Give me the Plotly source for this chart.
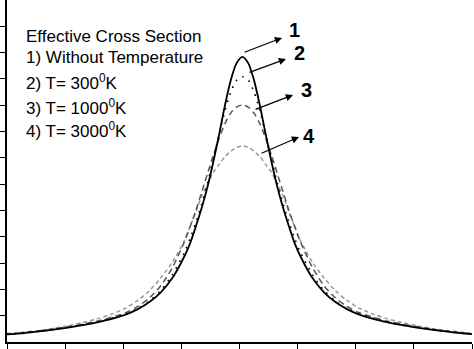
import plotly.graph_objects as go

# x positions (peak centre at ~0.05)
x = [-4.0, -3.7, -3.45, -3.2, -2.95, -2.7, -2.45, -2.2, -1.95, -1.75, -1.55, -1.35, -1.15, -0.95,
     -0.85, -0.75, -0.65, -0.55, -0.45, -0.35, -0.25, -0.15, -0.05, 0.05,
     0.15, 0.25, 0.35, 0.45, 0.55, 0.65, 0.75, 0.85, 0.95, 1.05,
     1.25, 1.45, 1.65, 1.85, 2.05, 2.3, 2.55, 2.8, 3.05, 3.3, 3.55, 3.8, 4.0]

# 1) Without temperature
y1 = [0.29, 0.34, 0.40, 0.47, 0.55, 0.64, 0.75, 0.88, 1.05, 1.25, 1.52, 1.90, 2.45, 3.25,
      3.75, 4.40, 5.10, 5.90, 6.85, 7.90, 9.00, 9.95, 10.60, 10.84,
      10.60, 9.95, 9.00, 7.90, 6.85, 5.90, 5.10, 4.40, 3.75, 3.25,
      2.45, 1.90, 1.52, 1.25, 1.05, 0.88, 0.75, 0.64, 0.55, 0.47, 0.40, 0.34, 0.30]
# 2) T = 300 K
y2 = [0.30, 0.35, 0.41, 0.48, 0.56, 0.65, 0.76, 0.90, 1.07, 1.27, 1.56, 1.97, 2.58, 3.40,
      3.93, 4.55, 5.25, 6.05, 6.95, 7.90, 8.80, 9.50, 9.95, 10.08,
      9.95, 9.50, 8.80, 7.90, 6.95, 6.05, 5.25, 4.55, 3.93, 3.40,
      2.58, 1.97, 1.56, 1.27, 1.07, 0.90, 0.76, 0.65, 0.56, 0.48, 0.41, 0.35, 0.31]
# 3) T = 1000 K
y3 = [0.30, 0.36, 0.42, 0.49, 0.58, 0.68, 0.79, 0.94, 1.12, 1.35, 1.68, 2.15, 2.85, 3.80,
      4.38, 5.00, 5.70, 6.40, 7.10, 7.75, 8.30, 8.70, 8.93, 9.01,
      8.93, 8.70, 8.30, 7.75, 7.10, 6.40, 5.70, 5.00, 4.38, 3.80,
      2.85, 2.15, 1.68, 1.35, 1.12, 0.94, 0.79, 0.68, 0.58, 0.49, 0.42, 0.36, 0.31]
# 4) T = 3000 K
y4 = [0.32, 0.38, 0.44, 0.52, 0.62, 0.74, 0.88, 1.06, 1.30, 1.58, 1.95, 2.45, 3.05, 3.85,
      4.40, 4.95, 5.55, 6.00, 6.45, 6.75, 7.05, 7.25, 7.40, 7.45,
      7.40, 7.25, 7.05, 6.75, 6.45, 6.00, 5.55, 4.95, 4.40, 3.85,
      3.05, 2.45, 1.95, 1.58, 1.30, 1.06, 0.88, 0.74, 0.62, 0.52, 0.44, 0.38, 0.33]

legend_lines = ["Effective Cross Section",
                "1) Without Temperature",
                "2) T= 300<sup>0</sup>K",
                "3) T= 1000<sup>0</sup>K",
                "4) T= 3000<sup>0</sup>K"]
legend_y = [11.60, 10.82, 9.87, 8.95, 8.04]

labels = ["1", "2", "3", "4"]
label_pos = [(0.938, 11.86), (1.024, 10.99), (1.145, 9.58), (1.196, 7.83)]
arrow_head = [(0.731, 11.56), (0.80, 10.76), (0.921, 9.39), (1.024, 7.79)]
arrow_tail = [(0.060, 10.99), (0.146, 10.23), (0.25, 8.82), (0.353, 7.15)]

fig = go.Figure()
styles = [
    dict(color="black", width=1.8, dash="solid"),
    dict(color="black", width=1.6, dash="1.6px,6px"),
    dict(color="#555555", width=1.5, dash="6px,4px"),
    dict(color="#999999", width=1.5, dash="4px,3px"),
]
for ys, st in zip([y4, y3, y2, y1], styles[::-1]):
    fig.add_trace(go.Scatter(x=x, y=ys, mode="lines",
                             line=dict(shape="spline", smoothing=0.8, **st),
                             showlegend=False, hoverinfo="skip"))

font = "Liberation Sans, Arial, Helvetica, sans-serif"
ann = []
for t, yy in zip(legend_lines, legend_y):
    ann.append(dict(x=-3.708, y=yy, xref="x", yref="y", text=t, showarrow=False,
                    xanchor="left", yanchor="middle",
                    font=dict(family=font, size=17, color="black")))
for t, (lx, ly) in zip(labels, label_pos):
    ann.append(dict(x=lx, y=ly, xref="x", yref="y", text="<b>%s</b>" % t,
                    showarrow=False, xanchor="center", yanchor="middle",
                    font=dict(family=font, size=20, color="black")))
for (hx, hy), (tx, ty) in zip(arrow_head, arrow_tail):
    ann.append(dict(x=hx, y=hy, ax=tx, ay=ty, xref="x", yref="y",
                    axref="x", ayref="y", text="", showarrow=True,
                    arrowhead=2, arrowsize=1.2, arrowwidth=1.2,
                    arrowcolor="black", standoff=0, startstandoff=0))

fig.update_layout(
    width=474, height=349,
    margin=dict(l=7, r=2, t=0, b=7),
    paper_bgcolor="white", plot_bgcolor="white",
    annotations=ann,
    xaxis=dict(range=[-4, 4], tickvals=[-4, -3, -2, -1, 0, 1, 2, 3, 4],
               showticklabels=False, ticks="outside", ticklen=7, tickwidth=1.2,
               tickcolor="black", showline=True, linecolor="black", linewidth=1.5,
               showgrid=False, zeroline=False),
    yaxis=dict(range=[0, 13], tickvals=list(range(1, 13)),
               showticklabels=False, ticks="outside", ticklen=7, tickwidth=1.2,
               tickcolor="black", showline=True, linecolor="black", linewidth=1.5,
               showgrid=False, zeroline=False),
)

fig.write_html("out.html")
